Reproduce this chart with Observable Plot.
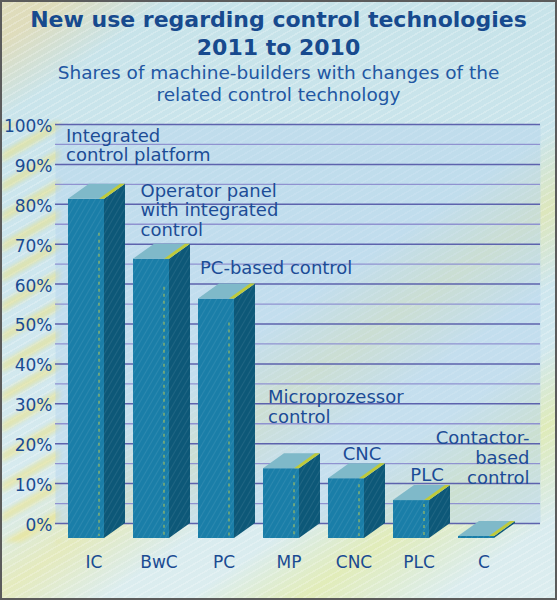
<!DOCTYPE html>
<html>
<head>
<meta charset="utf-8">
<script src="https://cdn.jsdelivr.net/npm/d3@7"></script>
<script src="https://cdn.jsdelivr.net/npm/@observablehq/plot@0.6"></script>
<style>
  html, body { margin: 0; padding: 0; }
  body { width: 557px; height: 600px; overflow: hidden; }
  #card {
    position: relative; box-sizing: border-box; width: 557px; height: 600px;
    border: 2px solid #5b5b5b; overflow: hidden;
    font-family: "DejaVu Sans", sans-serif; color: #1d4f96;
    background:
      repeating-linear-gradient(150deg, rgba(255,255,255,0.22) 0 1.5px, rgba(255,255,255,0) 1.5px 6px),
      linear-gradient(145deg, rgba(0,0,0,0) 0 52%, rgba(238,232,140,0.5) 60%, rgba(0,0,0,0) 68%),
      linear-gradient(145deg, rgba(0,0,0,0) 0 74%, rgba(230,236,150,0.6) 82%, rgba(0,0,0,0) 92%),
      linear-gradient(145deg, rgba(242,214,150,0.55) 0 4%, rgba(0,0,0,0) 12%),
      linear-gradient(180deg, #c7e3e9 0%, #cde6ee 45%, #dcedef 100%);
  }
  #leftstreak {
    position: absolute; left: 0; top: 120px; width: 58px; height: 420px;
    background: repeating-linear-gradient(150deg, rgba(240,225,110,0.45) 0 9px, rgba(240,225,110,0) 9px 26px);
    filter: blur(2px);
  }
  #head { position: relative; height: 108px; text-align: center; }
  .title { padding-top: 4px; font-weight: bold; font-size: 22px; line-height: 28px; color: #174a8e; }
  .sub { font-size: 18.5px; line-height: 22px; color: #2257a2; }
  #chart { position: relative; }
</style>
</head>
<body>
<div id="card">
  <div id="leftstreak"></div>
  <div id="head">
    <div class="title">New use regarding control technologies<br>2011 to 2010</div>
    <div class="sub">Shares of machine-builders with changes of the<br>related control technology</div>
  </div>
  <div id="chart"></div>
</div>
<script>
// ---- data ----
const categories = ["IC", "BwC", "PC", "MP", "CNC", "PLC", "C"];
const shares = [85, 70, 60, 17.5, 15, 9.5, 0.5];
const descriptions = [
  "Integrated\ncontrol platform",
  "Operator panel\nwith integrated\ncontrol",
  "PC-based control",
  "Microprozessor\ncontrol",
  "CNC",
  "PLC",
  "Contactor-\nbased\ncontrol"
];
const yTicks = [0, 10, 20, 30, 40, 50, 60, 70, 80, 90, 100];
const minorTicks = [5, 15, 25, 35, 45, 55, 65, 75, 85, 95];

// ---- layout / style ----
const DX = 21, DY = 15, PAD = 0.125;
const labelAnchor = ["start", "start", "start", "start", "middle", "middle", "end"];
const labelDx = [-31, -21.5, -27, -24, 5, 5, 42.5];
const labelDy = [-23, -8, -10, -31, -4, -5, -38];

const rows = categories.map((c, i) => ({category: c, share: shares[i], text: descriptions[i]}));

function bars3d(index, scales, values, dims) {
  const x = scales.x, y = scales.y;
  const bw = typeof x.bandwidth === "function" ? x.bandwidth()
           : (x(categories[1]) - x(categories[0])) * (1 - PAD);
  const fw = bw - DX;
  const g = d3.create("svg:g");
  const defs = g.append("defs");
  const pat = defs.append("pattern").attr("id", "hatch").attr("patternUnits", "userSpaceOnUse")
    .attr("width", 5).attr("height", 5).attr("patternTransform", "rotate(30)");
  pat.append("line").attr("x1", 0).attr("y1", 0).attr("x2", 0).attr("y2", 5)
    .attr("stroke", "#ffffff").attr("stroke-opacity", 0.10).attr("stroke-width", 1.5);
  for (const r of rows) {
    const x0 = x(r.category), yv = y(r.share), y0 = y(0);
    const pts = a => a.map(p => p.join(",")).join(" ");
    const side = pts([[x0 + fw, yv + DY], [x0 + bw, yv], [x0 + bw, y0], [x0 + fw, y0 + DY]]);
    g.append("polygon").attr("points", side).attr("fill", "#0d5878");
    g.append("polygon").attr("points", side).attr("fill", "url(#hatch)");
    const h = Math.max(1.5, y0 - yv);
    g.append("rect").attr("x", x0).attr("y", yv + DY).attr("width", fw).attr("height", h).attr("fill", "#1a7ea8");
    g.append("rect").attr("x", x0).attr("y", yv + DY).attr("width", fw).attr("height", h).attr("fill", "url(#hatch)");
    if (y0 - yv > 20) {
      g.append("line").attr("x1", x0 + fw - 5).attr("x2", x0 + fw - 5)
        .attr("y1", yv + DY + (y0 - yv) * 0.1).attr("y2", y0 + DY - 2)
        .attr("stroke", "#c8d24a").attr("stroke-opacity", 0.55).attr("stroke-width", 1.6)
        .attr("stroke-dasharray", "3 4");
    }
    g.append("polygon").attr("points", pts([[x0, yv + DY], [x0 + DX, yv], [x0 + bw, yv], [x0 + fw, yv + DY]]))
      .attr("fill", "#7fb9c9");
    g.append("polygon").attr("points", pts([[x0 + fw - 5, yv + DY], [x0 + bw - 5, yv], [x0 + bw, yv], [x0 + fw, yv + DY]]))
      .attr("fill", "#bfca3a");
  }
  return g.node();
}

const labelMarks = rows.map((r, i) => Plot.text([r], {
  x: "category", y: "share", text: "text",
  textAnchor: labelAnchor[i], lineAnchor: "bottom", lineHeight: 1.1,
  dx: labelDx[i], dy: labelDy[i], fontSize: 18, fill: "#1c4c96"
}));

const chart = Plot.plot({
  width: 553, height: 486,
  marginLeft: 53, marginRight: 15, marginTop: 14, marginBottom: 73,
  style: {background: "transparent", color: "#1a4b92", fontFamily: "DejaVu Sans, sans-serif", fontSize: "17px", overflow: "visible"},
  x: {type: "band", domain: categories, paddingInner: PAD, paddingOuter: 0.2825, align: 0.35},
  y: {domain: [0, 100]},
  marks: [
    Plot.frame({fill: "#b4d3ee", fillOpacity: 0.45, stroke: null}),
    Plot.ruleY(minorTicks, {stroke: "#8f92d0", strokeWidth: 1.3}),
    Plot.ruleY(yTicks, {stroke: "#5d62ad", strokeWidth: 1.5}),
    bars3d,
    ...labelMarks,
    Plot.axisY({ticks: yTicks, tickFormat: d => d + "%", tickSize: 0, tickPadding: 3, dy: 2, fontSize: 17, label: null}),
    Plot.axisX({tickSize: 0, tickPadding: 32, dx: -3, fontSize: 17, label: null})
  ]
});
document.getElementById("chart").appendChild(chart);
</script>
</body>
</html>
